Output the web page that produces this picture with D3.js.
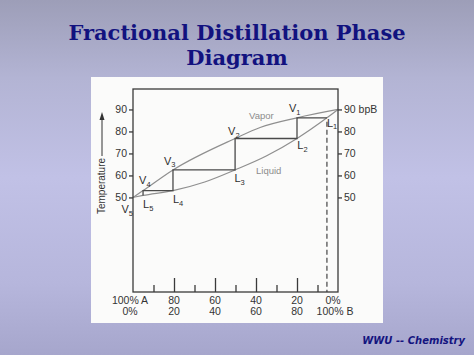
<!DOCTYPE html>
<html>
<head>
<meta charset="utf-8">
<script src="https://cdn.jsdelivr.net/npm/d3@7"></script>
<style>
  html, body { margin: 0; padding: 0; }
  body { width: 474px; height: 355px; overflow: hidden; }
</style>
</head>
<body>
<svg id="chart" width="474" height="355"></svg>
<script>
// ---- data ----
const titleLines = ["Fractional Distillation Phase", "Diagram"];
const footer = "WWU -- Chemistry";
// composition in % B (0 = 100% A, 100 = 100% B), temperature
const vaporX = [0, 4.9, 19.5, 49.8, 62, 80, 100];
const vaporT = [50, 53.1, 62.5, 76.8, 81.8, 86.2, 90];
const liquidX = [0, 4.9, 19.5, 35, 49.8, 65, 80, 94.6, 100];
const liquidT = [50, 50.9, 53.1, 57, 62.5, 68.8, 76.8, 86.2, 90];
// staircase: L1, then V/L pairs 2..5
const stepX = [94.6, 80, 49.8, 19.5, 4.9];
const stepT = [86.2, 76.8, 62.5, 53.1, 50.9];
const yTicks = [50, 60, 70, 80, 90];
const rightTickLabels = ["50", "60", "70", "80", "90 bpB"];
const xMajor = [20, 40, 60, 80];
const xMinor = [10, 30, 50, 70, 90];
const xLabelPos = [0, 20, 40, 60, 80, 100];
const xLabelsA = ["100% A", "80", "60", "40", "20", "0%"];
const xLabelsB = ["0%", "20", "40", "60", "80", "100% B"];
const dashedX = 94.6;

// ---- layout ----
const svg = d3.select("#chart");
const plot = { left: 133, right: 338, top: 89, bottom: 292 };
const x = d3.scaleLinear().domain([0, 100]).range([plot.left, plot.right]);
const y = d3.scaleLinear().domain([7, 99.3]).range([plot.bottom, plot.top]);

// background
const defs = svg.append("defs");
const grad = defs.append("linearGradient").attr("id", "bg").attr("x1", 0).attr("y1", 0).attr("x2", 0).attr("y2", 1);
[["0%", "#9d9eb8"], ["22%", "#b3b4d4"], ["50%", "#c1c1e6"], ["80%", "#b6b6dc"], ["100%", "#a6a6cc"]]
  .forEach(([o, c]) => grad.append("stop").attr("offset", o).attr("stop-color", c));
svg.append("rect").attr("width", 474).attr("height", 355).attr("fill", "url(#bg)");

// title
svg.append("g").selectAll("text").data(titleLines).join("text")
  .attr("x", 237).attr("y", (d, i) => 40 + i * 25)
  .attr("text-anchor", "middle")
  .attr("font-family", "DejaVu Serif, serif").attr("font-weight", "bold")
  .attr("font-size", 21).attr("fill", "#12127f")
  .text(d => d);

// white panel
svg.append("rect").attr("x", 91).attr("y", 77).attr("width", 292).attr("height", 246).attr("fill", "#fbfbfa");

const ink = "#3a3a3a";
const curveCol = "#8f8f8f";

// curves
const line = d3.line().x(d => x(d[0])).y(d => y(d[1])).curve(d3.curveMonotoneX);
svg.append("path").datum(vaporX.map((v, i) => [v, vaporT[i]]))
  .attr("d", line).attr("fill", "none").attr("stroke", curveCol).attr("stroke-width", 1.2);
svg.append("path").datum(liquidX.map((v, i) => [v, liquidT[i]]))
  .attr("d", line).attr("fill", "none").attr("stroke", curveCol).attr("stroke-width", 1.2);

// staircase
const stair = [[stepX[0], stepT[0]]];
for (let i = 1; i < stepX.length; i++) {
  stair.push([stepX[i], stepT[i - 1]]);
  stair.push([stepX[i], stepT[i]]);
}
svg.append("path").datum(stair)
  .attr("d", d3.line().x(d => x(d[0])).y(d => y(d[1])))
  .attr("fill", "none").attr("stroke", "#4a4a4a").attr("stroke-width", 1.3);

// dashed line from L1 down
svg.append("line").attr("x1", x(dashedX)).attr("x2", x(dashedX))
  .attr("y1", y(stepT[0]) + 4).attr("y2", plot.bottom)
  .attr("stroke", "#444").attr("stroke-width", 1.2).attr("stroke-dasharray", "5,3");

// frame
svg.append("rect").attr("x", plot.left).attr("y", plot.top)
  .attr("width", plot.right - plot.left).attr("height", plot.bottom - plot.top)
  .attr("fill", "none").attr("stroke", ink).attr("stroke-width", 1.3);

const fontSans = "Liberation Sans, Arial, sans-serif";

// left axis
const gl = svg.append("g").attr("transform", `translate(${plot.left},0)`)
  .call(d3.axisLeft(y).tickValues(yTicks).tickSize(4).tickSizeOuter(0).tickPadding(2));
// right axis
const gr = svg.append("g").attr("transform", `translate(${plot.right},0)`)
  .call(d3.axisRight(y).tickValues(yTicks).tickSize(4).tickSizeOuter(0).tickPadding(2)
    .tickFormat((d, i) => rightTickLabels[i]));
// bottom major/minor ticks
const gbM = svg.append("g").attr("transform", `translate(0,${plot.bottom})`)
  .call(d3.axisTop(x).tickValues(xMajor).tickSize(14).tickSizeOuter(0).tickFormat(""));
const gbm = svg.append("g").attr("transform", `translate(0,${plot.bottom})`)
  .call(d3.axisTop(x).tickValues(xMinor).tickSize(7).tickSizeOuter(0).tickFormat(""));
[gl, gr, gbM, gbm].forEach(g => {
  g.select(".domain").remove();
  g.selectAll(".tick line").attr("stroke", ink).attr("stroke-width", 1.3);
  g.selectAll(".tick text").attr("fill", "#333").attr("font-family", fontSans).attr("font-size", 10.5);
});

// bottom labels
svg.append("g").selectAll("text").data(xLabelsA).join("text")
  .attr("x", (d, i) => x(xLabelPos[i]) + (i === 0 ? -3 : i === xLabelPos.length - 1 ? -5 : 0)).attr("y", 304)
  .attr("text-anchor", "middle").attr("font-family", fontSans).attr("font-size", 10.5).attr("fill", "#333")
  .text(d => d);
svg.append("g").selectAll("text").data(xLabelsB).join("text")
  .attr("x", (d, i) => x(xLabelPos[i]) + (i === 0 ? -3 : i === xLabelPos.length - 1 ? -3 : 0)).attr("y", 315)
  .attr("text-anchor", "middle").attr("font-family", fontSans).attr("font-size", 10.5).attr("fill", "#333")
  .text(d => d);

// point labels
const pts = [];
pts.push({ letter: "L", n: 1, px: x(stepX[0]), py: y(stepT[0]) });
for (let i = 1; i < stepX.length; i++) {
  pts.push({ letter: "V", n: i, px: x(stepX[i]), py: y(stepT[i - 1]) });
  pts.push({ letter: "L", n: i + 1, px: x(stepX[i]), py: y(stepT[i]) });
}
pts.push({ letter: "V", n: 5, px: x(0), py: y(50) });
const off = {
  V1: [-8, -5.5], V2: [-7, -3.3], V3: [-9, -5], V4: [-4, -6.4], V5: [-11.5, 15.8],
  L1: [0, 9], L2: [0.3, 10.7], L3: [-0.7, 12.3], L4: [0, 12.6], L5: [0, 13]
};
const lab = svg.append("g").selectAll("text").data(pts).join("text")
  .attr("x", d => d.px + off[d.letter + d.n][0])
  .attr("y", d => d.py + off[d.letter + d.n][1])
  .attr("font-family", fontSans).attr("font-size", 11).attr("fill", "#2e2e2e");
lab.append("tspan").text(d => d.letter);
lab.append("tspan").attr("font-size", 7.5).attr("dy", 2.5).text(d => d.n);

// Vapor / Liquid
svg.append("text").attr("x", 249).attr("y", 119).attr("font-family", fontSans)
  .attr("font-size", 9.5).attr("fill", "#8c8c8c").text("Vapor");
svg.append("text").attr("x", 256).attr("y", 174).attr("font-family", fontSans)
  .attr("font-size", 9.5).attr("fill", "#8c8c8c").text("Liquid");

// Temperature label with arrow
svg.append("text").attr("transform", "translate(105,186) rotate(-90)")
  .attr("text-anchor", "middle").attr("font-family", fontSans).attr("font-size", 10)
  .attr("fill", "#333").text("Temperature");
svg.append("line").attr("x1", 102).attr("x2", 102).attr("y1", 156).attr("y2", 118)
  .attr("stroke", "#333").attr("stroke-width", 1);
svg.append("path").attr("d", "M102,112 L99.5,120 L104.5,120 Z").attr("fill", "#333");

// footer
svg.append("text").attr("x", 465).attr("y", 344).attr("text-anchor", "end")
  .attr("font-family", "DejaVu Sans, sans-serif").attr("font-weight", "bold").attr("font-style", "italic")
  .attr("font-size", 10).attr("fill", "#14147f").text(footer);
</script>
</body>
</html>
